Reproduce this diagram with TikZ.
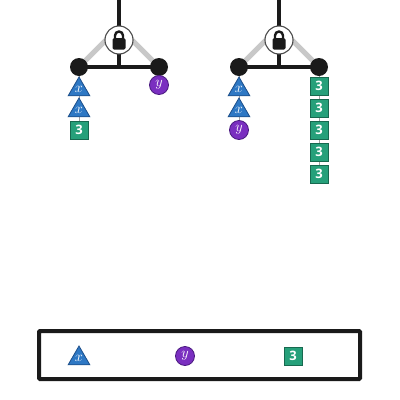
\documentclass[tikz,border=0pt]{standalone}
\usepackage{fontspec}
\newfontfamily\digitfont{Open Sans}
\usetikzlibrary{shapes.geometric,backgrounds}
\definecolor{barblack}{HTML}{1A1A1A}
\definecolor{triblue}{HTML}{2E78C4}
\definecolor{triblueD}{HTML}{1D4F8A}
\definecolor{ypurple}{HTML}{7A2FC0}
\definecolor{ypurpleD}{HTML}{4A1A80}
\definecolor{sqgreen}{HTML}{26A07A}
\definecolor{sqgreenD}{HTML}{17694F}
\definecolor{armgray}{HTML}{C8C8C8}
\definecolor{threadgray}{HTML}{A0A0A0}
\tikzset{
  tri/.style={regular polygon, regular polygon sides=3, minimum size=25pt, inner sep=0pt,
    fill=triblue, draw=triblueD, line width=0.8pt, text=white,
    font=\fontsize{14.4}{14.4}\selectfont},
  ycirc/.style={circle, minimum size=19pt, inner sep=0pt, fill=ypurple, draw=ypurpleD,
    line width=0.8pt, text=white, font=\fontsize{14.4}{14.4}\selectfont},
  sqthree/.style={rectangle, minimum size=18pt, inner sep=0pt, fill=sqgreen, draw=sqgreenD,
    line width=0.8pt, text=white, font=\fontsize{13}{13}\selectfont\digitfont\bfseries},
  dot/.style={circle, fill=barblack, minimum size=18pt, inner sep=0pt},
  lockc/.style={circle, minimum size=28pt, inner sep=0pt, fill=white, draw=black!70, line width=1.1pt},
  barline/.style={draw=barblack, line width=4pt},
  armline/.style={draw=armgray, line width=5pt},
  threadline/.style={draw=threadgray, line width=1pt},
  legendbox/.style={rectangle, draw=barblack, line width=4pt, rounded corners=1pt,
    minimum width=321pt, minimum height=48pt, inner sep=0pt},
}
\begin{document}
\begin{tikzpicture}[x=1pt,y=-1pt]
\useasboundingbox (0,0) rectangle (400,400);

% ---------- left hanger ----------
\coordinate (topL) at (119,0);
\coordinate (midL) at (119,67);
\node[lockc] (lockL) at (119,40) {};
\node[dot] (dotA) at (79,67) {};
\node[dot] (dotB) at (159,67) {};
\node[tri] (triA1) at (79,89.5) {$x$};
\node[tri] (triA2) at (79,110.5) {$x$};
\node[sqthree] (sqA) at (79,130) {3};
\node[ycirc] (yB) at (159,85) {$y$};

% ---------- right hanger ----------
\coordinate (topR) at (279,0);
\coordinate (midR) at (279,67);
\node[lockc] (lockR) at (279,40) {};
\node[dot] (dotC) at (239,67) {};
\node[dot] (dotD) at (319,67) {};
\node[tri] (triC1) at (239,89.5) {$x$};
\node[tri] (triC2) at (239,110.5) {$x$};
\node[ycirc] (yC) at (239,130) {$y$};
\node[sqthree] (sqD1) at (319,86) {3};
\node[sqthree] (sqD2) at (319,108) {3};
\node[sqthree] (sqD3) at (319,130) {3};
\node[sqthree] (sqD4) at (319,152) {3};
\node[sqthree] (sqD5) at (319,174) {3};

% lock icons
\foreach \c in {119,279}{
  \fill[barblack, rounded corners=1.5pt] (\c-6.5,38) rectangle (\c+6.5,49.5);
  \draw[barblack, line width=2.4pt] (\c-4,39) -- (\c-4,35.5) arc[start angle=180, end angle=360, radius=4] -- (\c+4,39);
}

% ---------- legend ----------
\node[legendbox] (legend) at (199.5,355) {};
\node[tri] (legTri) at (79,358.5) {$x$};
\node[ycirc] (legY) at (185,356) {$y$};
\node[sqthree] (legSq) at (293,356) {3};

\begin{pgfonlayer}{background}
  \draw[threadline] (dotA.center) -- (sqA.center);
  \draw[threadline] (dotB.center) -- (yB.center);
  \draw[threadline] (dotC.center) -- (yC.center);
  \draw[threadline] (dotD.center) -- (sqD5.center);
  \draw[armline] (dotA.center) -- (108,38);
  \draw[armline] (dotB.center) -- (130,38);
  \draw[armline] (dotC.center) -- (268,38);
  \draw[armline] (dotD.center) -- (290,38);
  \draw[barline] (topL) -- (midL);
  \draw[barline] (dotA.center) -- (dotB.center);
  \draw[barline] (topR) -- (midR);
  \draw[barline] (dotC.center) -- (dotD.center);
\end{pgfonlayer}
\end{tikzpicture}
\end{document}
